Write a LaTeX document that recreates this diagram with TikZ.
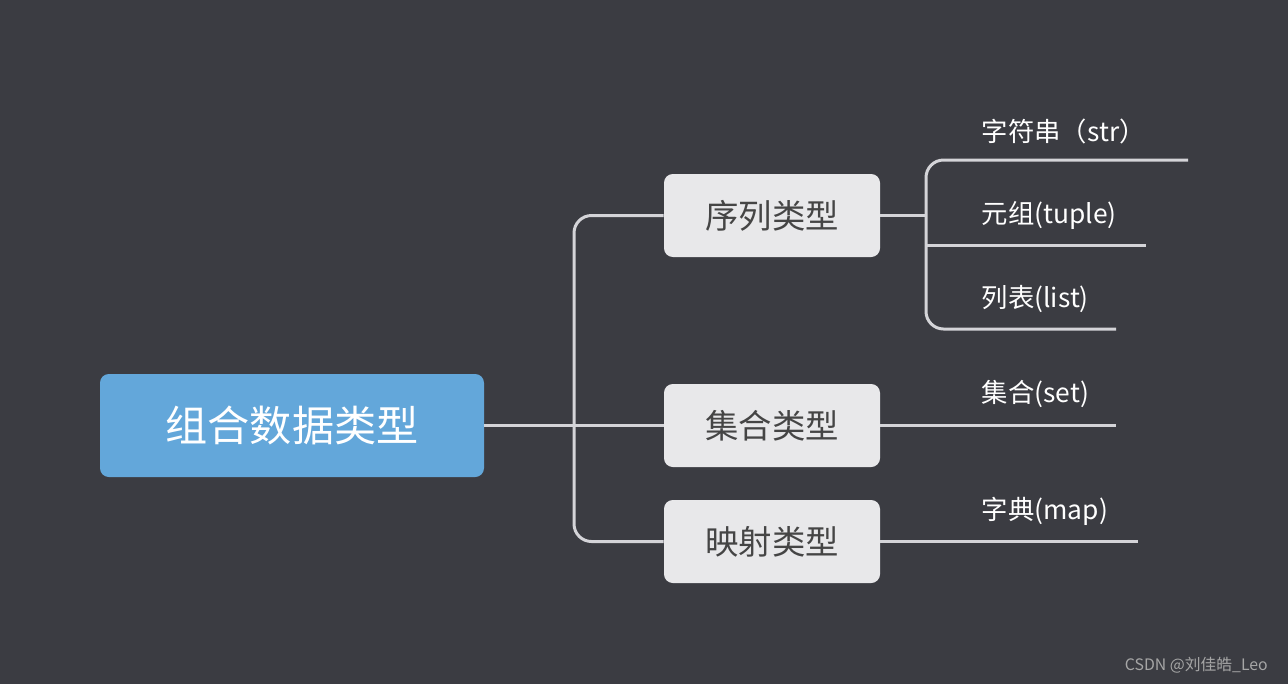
\documentclass[tikz,border=0pt]{standalone}
\usepackage{fontspec}
\setmainfont{Noto Sans CJK SC}
\usetikzlibrary{positioning}
\definecolor{bgc}{HTML}{3B3C42}
\definecolor{rootc}{HTML}{63A7DA}
\definecolor{boxc}{HTML}{E8E8EA}
\definecolor{linec}{HTML}{D4D4D8}
\definecolor{txtc}{HTML}{454545}
\begin{document}
\begin{tikzpicture}[x=0.02cm,y=-0.02cm,
		root/.style={rectangle, rounded corners=5pt, fill=rootc, text=white, minimum width=384*0.02cm, minimum height=103*0.02cm, font=\fontsize{24}{28}\selectfont},
		kind/.style={rectangle, rounded corners=5pt, fill=boxc, text=txtc, minimum width=216*0.02cm, minimum height=83*0.02cm, font=\fontsize{19}{23}\selectfont},
		leaf/.style={anchor=south west, text=white, inner sep=2pt, font=\fontsize{15}{18}\selectfont},
		link/.style={draw=linec, line width=1.7pt, rounded corners=10pt}
		]
		\fill[bgc] (0,0) rectangle (1288,684);
		
		\node[root] (r) at (292, 425.5) {组合数据类型};
		\node[kind] (k1) at (772, 215.5) {序列类型};
		\node[kind] (k2) at (772, 425.5) {集合类型};
		\node[kind] (k3) at (772, 541.5) {映射类型};
		
		\draw[link] (r.east) -- (k2.west);
		\draw[link] (k1.west) -- (574,215.5) -- (574,541.5) -- (k3.west);
		
		% leaves
		\coordinate (e1) at (1188,160);
		\coordinate (e2) at (1146,245);
		\coordinate (e3) at (1116,329);
		\coordinate (e4) at (1116,425.5);
		\coordinate (e5) at (1138,541.5);
		\draw[link] (k1.east) -- (926,215.5);
		\draw[link] (e1) -- (926,160) -- (926,329) -- (e3);
		\draw[link] (926,245) -- (e2);
		\draw[link] (k2.east) -- (e4);
		\draw[link] (k3.east) -- (e5);
		
		\node[leaf] (l1) at (978,148) {字符串（str）};
		\node[leaf] (l2) at (978,233) {元组(tuple)};
		\node[leaf] (l3) at (978,317) {列表(list)};
		\node[leaf] (l4) at (978,412) {集合(set)};
		\node[leaf] (l5) at (978,529) {字典(map)};
		
		\node[anchor=east, text=gray!70, font=\fontsize{9}{11}\selectfont] (wm) at (1274,665) {CSDN @刘佳皓\_Leo};
\end{tikzpicture}
\end{document}
